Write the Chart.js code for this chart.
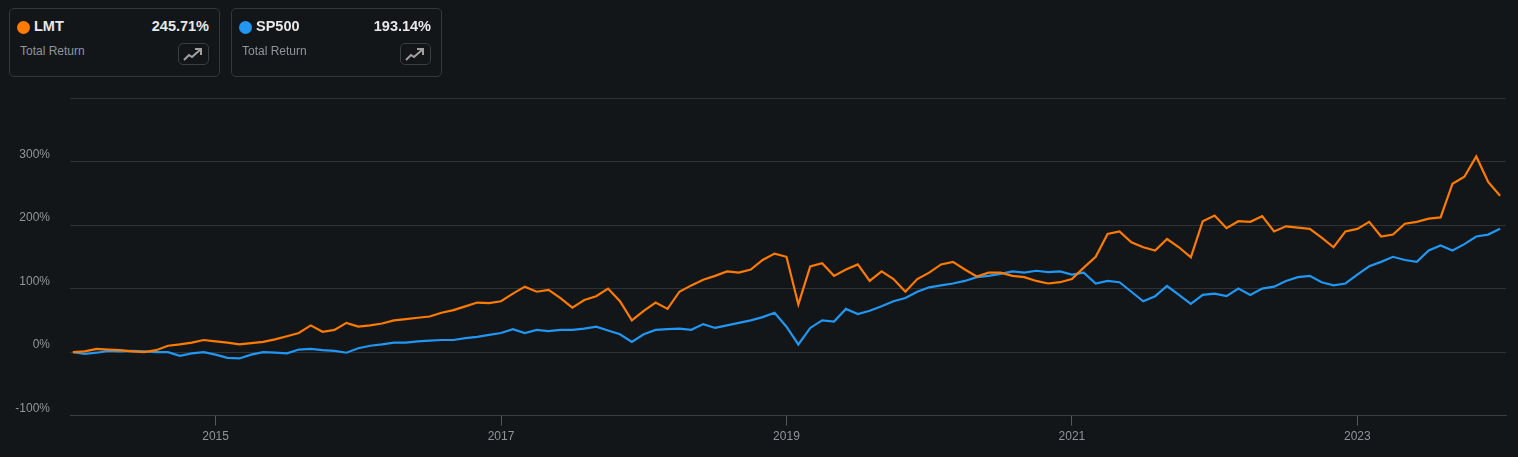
<!DOCTYPE html>
<html>
<head>
<meta charset="utf-8">
<script src="https://cdn.jsdelivr.net/npm/chart.js@4.4.1/dist/chart.umd.min.js"></script>
<style>
  html, body { margin: 0; padding: 0; background: #131619; width: 1518px; height: 457px; overflow: hidden; font-family: "Liberation Sans", Arial, sans-serif; }
  #wrap { position: absolute; left: 0; top: 0; width: 1518px; height: 457px; }
  .card { position: absolute; top: 8px; width: 211px; height: 69px; border: 1px solid #34373b; border-radius: 5px; background: #131619; box-sizing: border-box; }
  .dot { position: absolute; left: 7px; top: 12px; width: 13px; height: 13px; border-radius: 50%; }
  .name { position: absolute; left: 24px; top: 9px; color: #e8e8e8; font-weight: bold; font-size: 14.5px; }
  .val { position: absolute; right: 10px; top: 9px; color: #e8e8e8; font-weight: bold; font-size: 14.5px; }
  .sub { position: absolute; left: 10px; top: 35px; color: #8f959b; font-size: 12px; }
  .ico { position: absolute; right: 10px; top: 34px; width: 31px; height: 22px; border: 1px solid #3a3d41; border-radius: 5px; box-sizing: border-box; }
</style>
</head>
<body>
<div id="wrap"><canvas id="chart" width="1518" height="457"></canvas></div>
<div class="card" style="left:9px"><div class="dot" style="background:#ff7a00"></div><div class="name">LMT</div><div class="val">245.71%</div><div class="sub">Total Return</div>
  <div class="ico"><svg width="29" height="20"><polyline points="5,16 10,11 13,13 22,5" fill="none" stroke="#a0a0a0" stroke-width="2"/><polyline points="16,5 22,5 22,11" fill="none" stroke="#a0a0a0" stroke-width="2"/></svg></div></div>
<div class="card" style="left:231px"><div class="dot" style="background:#2196f3"></div><div class="name">SP500</div><div class="val">193.14%</div><div class="sub">Total Return</div>
  <div class="ico"><svg width="29" height="20"><polyline points="5,16 10,11 13,13 22,5" fill="none" stroke="#a0a0a0" stroke-width="2"/><polyline points="16,5 22,5 22,11" fill="none" stroke="#a0a0a0" stroke-width="2"/></svg></div></div>
<script>
// monthly points, Jan 2014 .. Jan 2024
var startYear = 2014;
var lmt = [
  0, 1, 5, 4, 3, 1, 0, 3, 10, 12, 15, 19,
  17, 15, 12, 14, 16, 20, 25, 30, 42, 32, 35, 46,
  40, 42, 45, 50, 52, 54, 56, 62, 66, 72, 78, 77,
  80, 92, 103, 95, 98, 85, 70, 82, 88, 100, 80, 50,
  65, 78, 68, 95, 105, 114, 120, 127, 125, 130, 145, 155,
  150, 75, 135, 140, 120, 130, 138, 112, 127, 115, 95, 115,
  125, 138, 142, 130, 119, 125, 125, 120, 118, 112, 108, 110,
  115, 133, 150, 186, 190, 173, 165, 160, 178, 165, 149, 206,
  215, 195, 206, 205, 214, 190, 198, 196, 194, 180, 165, 190,
  194, 205, 182, 185, 202, 205, 210, 212, 265, 276, 308, 268,
  246
];
var sp500 = [
  0, -3, -1, 2, 1, 2, 1, 0, 0, -6, -2, 0,
  -4, -9, -10, -4, 0, -1, -2, 4, 5, 3, 2, -1,
  6, 10, 12, 15, 15, 17, 18, 19, 19, 22, 24, 27,
  30, 36, 30, 35, 33, 35, 35, 37, 40, 34, 28, 16,
  28, 35, 36, 37, 35, 44, 38, 42, 46, 50, 55, 62,
  40, 12, 38, 50, 48, 68, 60, 65, 72, 80, 85, 95,
  102, 105, 108, 112, 118, 120, 123, 127, 125, 128, 126, 127,
  122, 125, 108, 112, 110, 95, 80, 88, 104, 90, 76, 90,
  92, 88, 100, 90, 100, 103, 112, 118, 120, 110, 105, 108,
  122, 135, 142, 150, 145, 142, 160, 168, 160, 170, 182, 185,
  194
];
var yearTicks = [2015, 2017, 2019, 2021, 2023];
var pctTicks = [-100, 0, 100, 200, 300, 400];

function toPoints(arr) {
  return arr.map(function (v, i) { return { x: startYear + i / 12, y: v }; });
}

var ctx = document.getElementById("chart").getContext("2d");
new Chart(ctx, {
  type: "line",
  data: {
    datasets: [
      { label: "LMT", data: toPoints(lmt), borderColor: "#ff7a00", borderWidth: 2.2, pointRadius: 0, tension: 0 },
      { label: "SP500", data: toPoints(sp500), borderColor: "#2196f3", borderWidth: 2.2, pointRadius: 0, tension: 0 }
    ]
  },
  options: {
    responsive: false,
    animation: false,
    layout: { padding: { top: 98, right: 12, left: 0, bottom: 9 } },
    plugins: { legend: { display: false }, tooltip: { enabled: false } },
    scales: {
      x: {
        type: "linear",
        min: startYear - 0.02,
        max: startYear + 120.5 / 12,
        afterBuildTicks: function (s) { s.ticks = yearTicks.map(function (v) { return { value: v }; }); },
        ticks: { color: "#8f959b", font: { size: 12, family: "Liberation Sans" }, padding: 4, maxRotation: 0,
                 callback: function (v) { return String(v); } },
        grid: { drawOnChartArea: false, drawTicks: true, tickLength: 10, color: "#55595e" },
        border: { display: true, color: "#3a3e42" }
      },
      y: {
        min: -100,
        max: 400,
        afterBuildTicks: function (s) { s.ticks = pctTicks.map(function (v) { return { value: v }; }); },
        afterFit: function (s) { s.width = 70; },
        ticks: { color: "#8f959b", font: { size: 12, family: "Liberation Sans" }, padding: 20, labelOffset: -7,
                 callback: function (v) { return v === 400 ? "" : v + "%"; } },
        grid: { color: "#2e3236", drawTicks: false, lineWidth: 1 },
        border: { display: false }
      }
    }
  }
});
</script>
</body>
</html>
